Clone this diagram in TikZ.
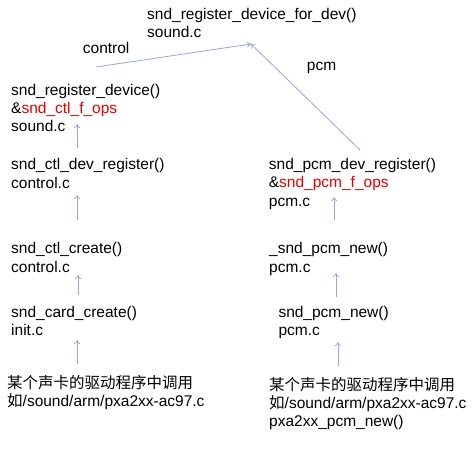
\documentclass[tikz,border=0pt]{standalone}
\usepackage{fontspec}
\setmainfont{Liberation Sans}
\newfontfamily\cjk{Noto Sans CJK SC}
\usetikzlibrary{arrows.meta}
\definecolor{arrblue}{RGB}{143,170,220}
\definecolor{opsred}{RGB}{235,0,0}
\newcommand{\zh}[1]{{\cjk\fontsize{15.5}{18.3}\selectfont #1}}
\begin{document}
\begin{tikzpicture}[x=1pt,y=1pt,
  txt/.style={anchor=base west,inner sep=0pt,align=left,font=\fontsize{15.5}{18.3}\selectfont},
  arr/.style={draw=arrblue,line width=0.8pt,-{To[length=4pt,width=6pt]}}]
\useasboundingbox (0,0) rectangle (474,-453);
% nodes (anchored at the baseline of their last line)
\node[txt] (top) at (147,-37.8) {snd\_register\_device\_for\_dev()\\sound.c};
\node[txt] (lctl) at (82.7,-53.3) {control};
\node[txt] (lpcm) at (306.7,-70.7) {pcm};
\node[txt] (l1) at (11,-131.6) {snd\_register\_device()\\\&\textcolor{opsred}{snd\_ctl\_f\_ops}\\sound.c};
\node[txt] (l2) at (11,-188) {snd\_ctl\_dev\_register()\\control.c};
\node[txt] (l3) at (11,-272) {snd\_ctl\_create()\\control.c};
\node[txt] (l4) at (11,-335.6) {snd\_card\_create()\\init.c};
\node[txt] (l5) at (7,-406.7) {\zh{某个声卡的驱动程序中调用}\\\zh{如}/sound/arm/pxa2xx-ac97.c};
\node[txt] (r1) at (268.7,-206) {snd\_pcm\_dev\_register()\\\&\textcolor{opsred}{snd\_pcm\_f\_ops}\\pcm.c};
\node[txt] (r2) at (269,-272) {\_snd\_pcm\_new()\\pcm.c};
\node[txt] (r3) at (278.3,-335.6) {snd\_pcm\_new()\\pcm.c};
\node[txt] (r4) at (269,-426.7) {\zh{某个声卡的驱动程序中调用}\\\zh{如}/sound/arm/pxa2xx-ac97.c\\pxa2xx\_pcm\_new()};
% connector end points
\coordinate (tip) at (251,-44);
\coordinate (cs) at (96,-67);
\coordinate (ps) at (360,-150);
\coordinate (a1s) at (77,-148); \coordinate (a1e) at (77,-124);
\coordinate (a2s) at (77,-220); \coordinate (a2e) at (77,-195);
\coordinate (a3s) at (78,-295); \coordinate (a3e) at (78,-275);
\coordinate (a4s) at (77,-364); \coordinate (a4e) at (77,-340);
\coordinate (b1s) at (334,-220); \coordinate (b1e) at (334,-197);
\coordinate (b2s) at (336,-297); \coordinate (b2e) at (336,-273);
\coordinate (b3s) at (338,-366); \coordinate (b3e) at (338,-342);
% connectors
\draw[arr] (cs) -- (tip);
\draw[arr] (ps) -- (tip);
\draw[arr] (a1s) -- (a1e);
\draw[arr] (a2s) -- (a2e);
\draw[arr] (a3s) -- (a3e);
\draw[arr] (a4s) -- (a4e);
\draw[arr] (b1s) -- (b1e);
\draw[arr] (b2s) -- (b2e);
\draw[arr] (b3s) -- (b3e);
\end{tikzpicture}
\end{document}
